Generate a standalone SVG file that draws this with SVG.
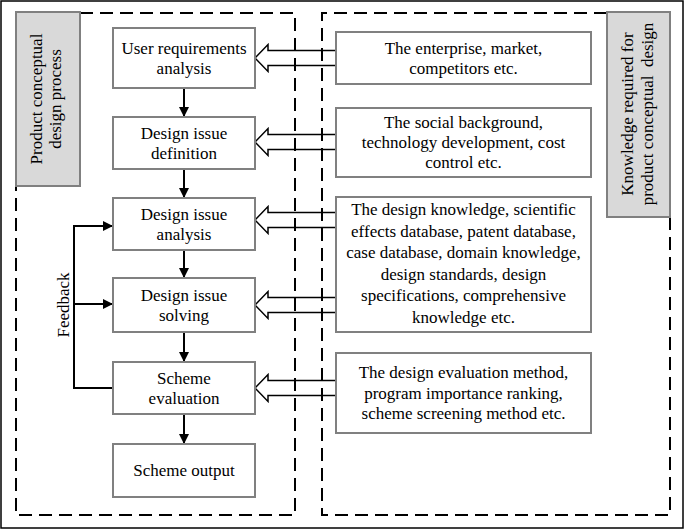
<svg xmlns="http://www.w3.org/2000/svg" width="685" height="530" viewBox="0 0 685 530">
<defs>
<style>
.box{fill:#fff;stroke:#808080;stroke-width:2}
.lab{fill:#d9d9d9;stroke:#808080;stroke-width:2}
.t{font-family:"Liberation Serif","Times New Roman",serif;font-size:17px;fill:#000;text-anchor:middle}
.dash{fill:none;stroke:#000;stroke-width:2;stroke-dasharray:13,7}
.ln{fill:none;stroke:#000;stroke-width:2}
.big{fill:#fff;stroke:#000;stroke-width:1.5}
</style>
<marker id="ah" viewBox="0 0 10 10" refX="10" refY="5" markerWidth="10" markerHeight="10" markerUnits="userSpaceOnUse" orient="auto">
<path d="M0,0 L10,5 L0,10 z" fill="#000"/>
</marker>
</defs>
<rect x="1" y="1" width="682" height="527" fill="#fff" stroke="#000" stroke-width="1.5"/>

<g id="connectors">
<line class="ln" x1="184" y1="88" x2="184" y2="117" marker-end="url(#ah)"/>
<line class="ln" x1="184" y1="169" x2="184" y2="198" marker-end="url(#ah)"/>
<line class="ln" x1="184" y1="250" x2="184" y2="278" marker-end="url(#ah)"/>
<line class="ln" x1="184" y1="332" x2="184" y2="362" marker-end="url(#ah)"/>
<line class="ln" x1="184" y1="414" x2="184" y2="444" marker-end="url(#ah)"/>
<polyline class="ln" points="113,388 74,388 74,226 113,226" marker-end="url(#ah)"/>
<line class="ln" x1="74" y1="304" x2="113" y2="304" marker-end="url(#ah)"/>
<polygon class="big" points="255,58 268,44.5 268,50.5 336,50.5 336,65.5 268,65.5 268,71.5"/>
<polygon class="big" points="255,142 268,128.5 268,134.5 336,134.5 336,149.5 268,149.5 268,155.5"/>
<polygon class="big" points="255,220 268,206.5 268,212.5 336,212.5 336,227.5 268,227.5 268,233.5"/>
<polygon class="big" points="255,305 268,291.5 268,297.5 336,297.5 336,312.5 268,312.5 268,318.5"/>
<polygon class="big" points="255,388 268,374.5 268,380.5 336,380.5 336,395.5 268,395.5 268,401.5"/>
</g>

<g id="frames">
<polyline class="dash" points="80,13 295,13 295,515 16,515 16,186"/>
<polyline class="dash" points="607,13 322,13 322,515 670,515 670,217"/>
</g>

<g id="label-left">
<rect class="lab" x="16" y="12" width="64" height="174"/>
<text class="t" transform="translate(42,99) rotate(-90)">Product conceptual</text>
<text class="t" transform="translate(61,99) rotate(-90)">design process</text>
</g>
<g id="label-right">
<rect class="lab" x="607" y="12" width="63" height="205"/>
<text class="t" transform="translate(633,114) rotate(-90)">Knowledge required for</text>
<text class="t" transform="translate(653,114) rotate(-90)" xml:space="preserve">product conceptual  design</text>
</g>
<text class="t" transform="translate(69,305) rotate(-90)">Feedback</text>

<g id="n1"><rect class="box" x="113" y="28" width="142" height="60"/>
<text class="t" x="184" y="53.5">User requirements</text><text class="t" x="184" y="73.5">analysis</text></g>
<g id="n2"><rect class="box" x="113" y="117" width="142" height="52"/>
<text class="t" x="184" y="138.5">Design issue</text><text class="t" x="184" y="158.5">definition</text></g>
<g id="n3"><rect class="box" x="113" y="198" width="142" height="52"/>
<text class="t" x="184" y="219.5">Design issue</text><text class="t" x="184" y="239.5">analysis</text></g>
<g id="n4"><rect class="box" x="113" y="278" width="142" height="54"/>
<text class="t" x="184" y="300.5">Design issue</text><text class="t" x="184" y="320.5">solving</text></g>
<g id="n5"><rect class="box" x="113" y="362" width="142" height="52"/>
<text class="t" x="184" y="383.5">Scheme</text><text class="t" x="184" y="403.5">evaluation</text></g>
<g id="n6"><rect class="box" x="113" y="444" width="142" height="53"/>
<text class="t" x="184" y="476">Scheme output</text></g>

<g id="k1"><rect class="box" x="336" y="32" width="255" height="52"/>
<text class="t" x="463.5" y="53.5">The enterprise, market,</text><text class="t" x="463.5" y="73.5">competitors etc.</text></g>
<g id="k2"><rect class="box" x="336" y="108" width="255" height="69"/>
<text class="t" x="463.5" y="128">The social background,</text><text class="t" x="463.5" y="148">technology development, cost</text><text class="t" x="463.5" y="168">control etc.</text></g>
<g id="k3"><rect class="box" x="336" y="197" width="255" height="135"/>
<text class="t" x="463.5" y="215">The design knowledge, scientific</text>
<text class="t" x="463.5" y="236.5">effects database, patent database,</text>
<text class="t" x="463.5" y="258">case database, domain knowledge,</text>
<text class="t" x="463.5" y="279.5">design standards, design</text>
<text class="t" x="463.5" y="301">specifications, comprehensive</text>
<text class="t" x="463.5" y="322.5">knowledge etc.</text></g>
<g id="k4"><rect class="box" x="336" y="353" width="255" height="80"/>
<text class="t" x="463.5" y="378">The design evaluation method,</text>
<text class="t" x="463.5" y="398.5">program importance ranking,</text>
<text class="t" x="463.5" y="419">scheme screening method etc.</text></g>
</svg>
